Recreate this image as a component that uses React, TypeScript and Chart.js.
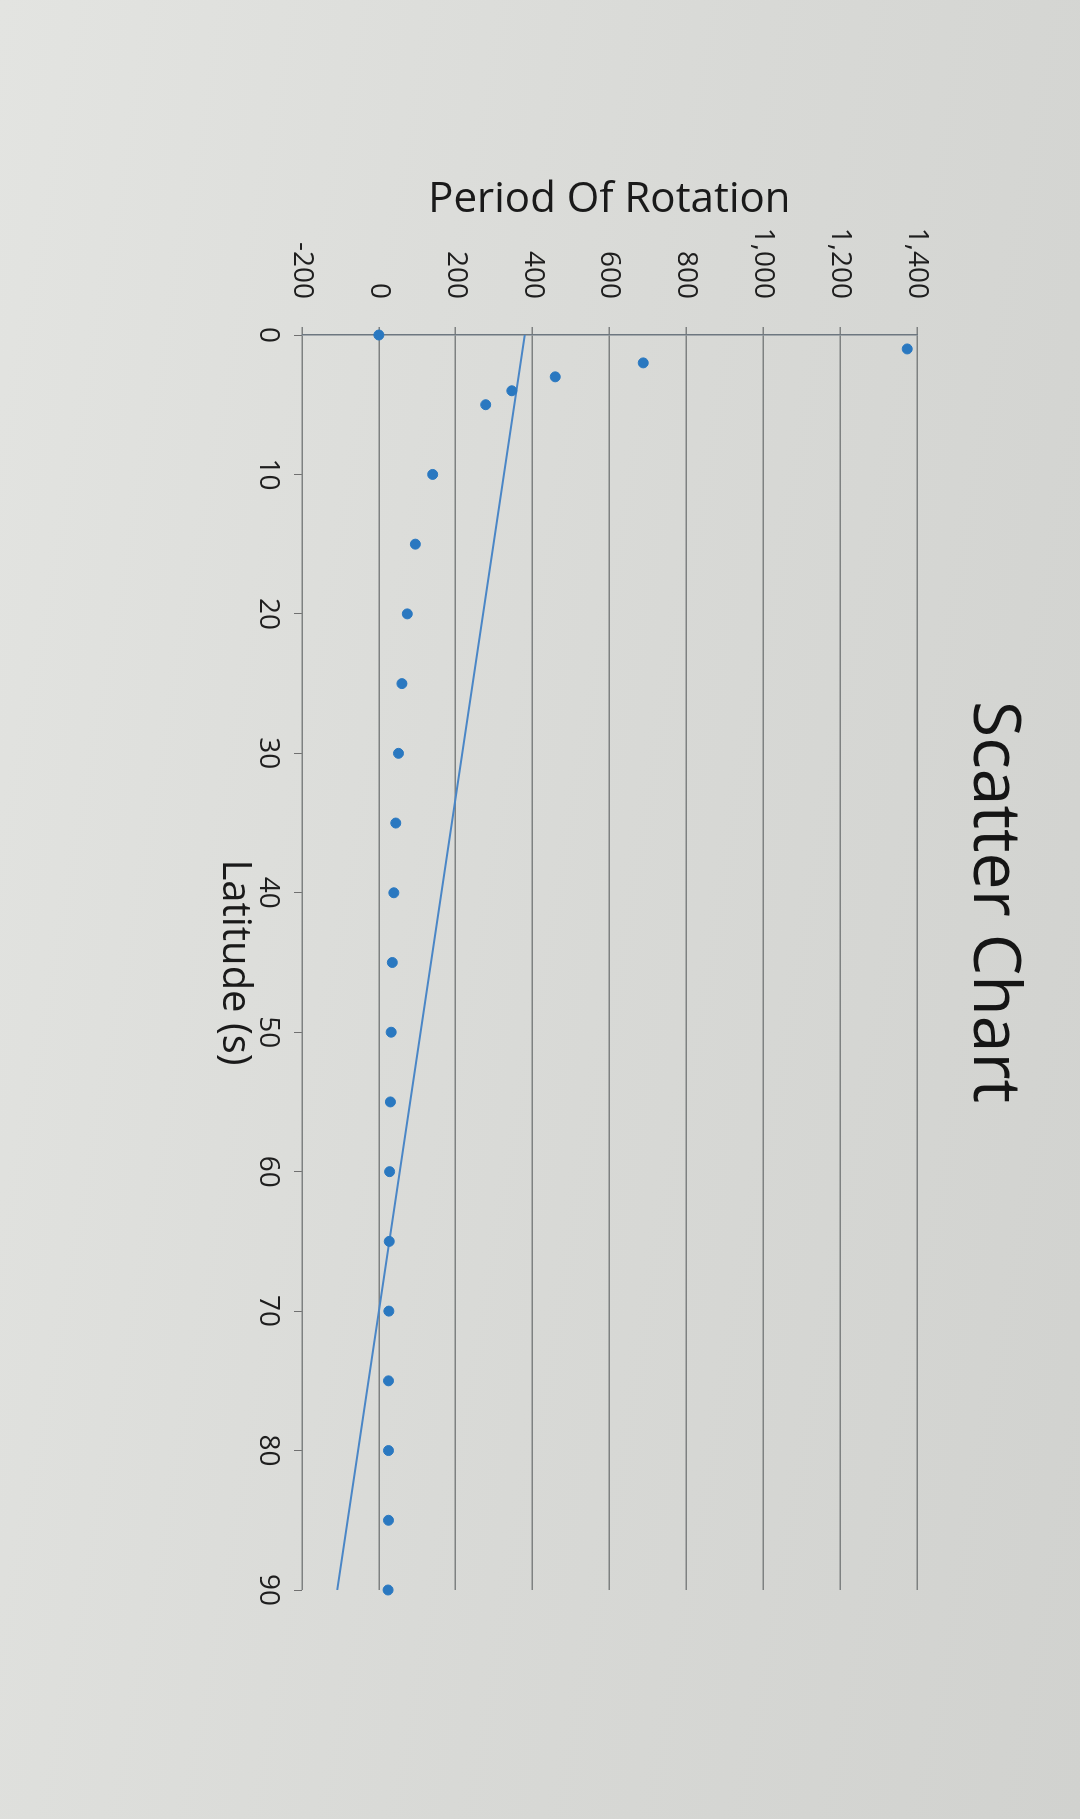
import React, { useEffect, useRef } from 'react';
import { Chart, registerables } from 'chart.js';

Chart.register(...registerables);

// ---- data ----
const latitudes = [0, 1, 2, 3, 4, 5, 10, 15, 20, 25, 30, 35, 40, 45, 50, 55, 60, 65, 70, 75, 80, 85, 90];
const periods = [0, 1375, 688, 459, 346, 278, 140, 95, 74, 60, 51, 44, 39, 35, 32, 30, 28, 27, 26, 25, 25, 25, 24];
const trendLatitudes = [0, 90];
const trendPeriods = [380, -108];

const xMin = 0;
const xMax = 90;
const xStep = 10;
const yMin = -200;
const yMax = 1400;
const yStep = 200;

const chartTitle = 'Scatter Chart';
const xAxisTitle = 'Latitude (s)';
const yAxisTitle = 'Period Of Rotation';

const W = 1464;
const H = 850;

export default function App() {
  const ref = useRef<HTMLCanvasElement>(null);

  useEffect(() => {
    if (!ref.current) return;
    Chart.defaults.font.family = "'Open Sans', 'DejaVu Sans', sans-serif";
    const chart = new Chart(ref.current, {
      type: 'scatter',
      data: {
        datasets: [
          {
            type: 'scatter',
            label: 'Period',
            data: latitudes.map((x, i) => ({ x, y: periods[i] })),
            backgroundColor: '#2a78c0',
            borderColor: '#2a78c0',
            pointRadius: 5,
            clip: false,
            order: 1,
          } as any,
          {
            type: 'line',
            label: 'Trend',
            data: trendLatitudes.map((x, i) => ({ x, y: trendPeriods[i] })),
            borderColor: '#4a86c6',
            borderWidth: 2,
            pointRadius: 0,
            fill: false,
            order: 2,
          } as any,
        ],
      },
      options: {
        responsive: false,
        animation: false,
        devicePixelRatio: 1,
        layout: { padding: { left: 44, right: 44, top: 0, bottom: 0 } },
        plugins: {
          legend: { display: false },
          tooltip: { enabled: false },
          title: {
            display: true,
            text: chartTitle,
            color: '#151515',
            font: { size: 66, weight: 'normal' },
            padding: { top: 18, bottom: 36 },
          },
        },
        scales: {
          x: {
            type: 'linear',
            min: xMin,
            max: xMax,
            ticks: { stepSize: xStep, color: '#1e1e1e', font: { size: 28 }, padding: 9 },
            grid: { drawOnChartArea: false, tickLength: 8, tickColor: '#707070' },
            border: { display: false },
            title: {
              display: true,
              text: xAxisTitle,
              color: '#1a1a1a',
              font: { size: 40 },
              padding: { top: 4, bottom: 10 },
            },
            afterFit: (s: any) => {
              s.height = 102;
            },
          },
          y: {
            type: 'linear',
            min: yMin,
            max: yMax,
            ticks: {
              stepSize: yStep,
              color: '#1e1e1e',
              font: { size: 28 },
              padding: 28,
              callback: (v: any) => Number(v).toLocaleString('en-US'),
            },
            grid: { color: '#7e8181', lineWidth: 1.5, tickLength: 8, tickColor: '#7e8181' },
            border: { display: true, color: '#6d7780', width: 1.5 },
            title: {
              display: true,
              text: yAxisTitle,
              color: '#1a1a1a',
              font: { size: 42 },
              padding: { top: -39, bottom: 4 },
            },
            afterFit: (s: any) => {
              s.width = 121;
            },
          },
        },
      } as any,
    });
    return () => chart.destroy();
  }, []);

  return (
    <div
      style={{
        position: 'fixed',
        left: 0,
        top: 0,
        width: 1080,
        height: 1819,
        overflow: 'hidden',
        background: 'linear-gradient(100deg, #e3e4e1 0%, #d8d9d6 55%, #d1d2cf 100%)',
      }}
    >
      <div
        style={{
          position: 'absolute',
          left: 0,
          top: 0,
          width: W,
          height: H,
          transformOrigin: '0 0',
          transform: 'translate(1050px, 170px) rotate(90deg)',
        }}
      >
        <canvas ref={ref} width={W} height={H} style={{ width: W, height: H, display: 'block' }} />
      </div>
    </div>
  );
}
